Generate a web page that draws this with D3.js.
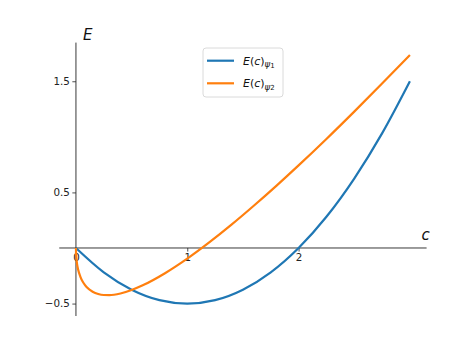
<!DOCTYPE html>
<html>
<head>
<meta charset="utf-8">
<script src="https://cdn.jsdelivr.net/npm/d3@7"></script>
<style>
  html, body { margin: 0; padding: 0; background: #fff; }
  svg { display: block; }
  text { font-family: "DejaVu Sans", sans-serif; }
</style>
</head>
<body>
<svg id="chart" width="474" height="355"></svg>
<script>
// ---- data ----
const c1 = [0, 0.25, 0.5, 0.75, 1, 1.25, 1.5, 1.75, 2, 2.25, 2.5, 2.75, 3];
const e1 = [0, -0.219, -0.375, -0.469, -0.5, -0.469, -0.375, -0.219, 0, 0.281, 0.625, 1.031, 1.5];

const c2 = [0, 0.001, 0.002, 0.005, 0.01, 0.02, 0.04, 0.06, 0.08, 0.1, 0.15, 0.2, 0.25, 0.3, 0.4, 0.5, 0.6, 0.8, 1.0, 1.2, 1.4, 1.6, 1.8, 2.0, 2.25, 2.5, 2.75, 3.0];
const e2 = [0, -0.049, -0.068, -0.105, -0.145, -0.196, -0.259, -0.301, -0.331, -0.355, -0.393, -0.414, -0.423, -0.424, -0.409, -0.378, -0.336, -0.227, -0.096, 0.052, 0.212, 0.382, 0.559, 0.743, 0.981, 1.227, 1.479, 1.736];

const xTicks = [0, 1, 2];
const xTickLabels = ["0", "1", "2"];
const yTicks = [1.5, 0.5, -0.5];
const yTickLabels = ["1.5", "0.5", "\u22120.5"];
const seriesNames = ["ψ1", "ψ2"];
const colors = ["#1f77b4", "#ff7f0e"];

// ---- layout ----
const svg = d3.select("#chart");
const mLeft = 59.25, mRight = 426.6, mTop = 42.6, mBottom = 316;

const x = d3.scaleLinear().domain([-0.15, 3.15]).range([mLeft, mRight]);
const y = d3.scaleLinear().domain([-0.6118, 1.8478]).range([mBottom, mTop]);

const axisColor = "#222";

// x axis at y=0
const xAxis = d3.axisBottom(x).tickValues(xTicks)
  .tickFormat((d, i) => xTickLabels[i]).tickSize(3.6).tickSizeOuter(0).tickPadding(2.5);
const gx = svg.append("g").attr("transform", `translate(0,${y(0)})`).call(xAxis);
gx.select(".domain").attr("d", `M${mLeft},0H${mRight}`).attr("stroke", axisColor).attr("stroke-width", 0.9);
gx.selectAll(".tick line").attr("stroke", axisColor).attr("stroke-width", 0.8);
gx.selectAll(".tick text").attr("font-size", "10.3px").attr("fill", "#222")
  .attr("font-family", "DejaVu Sans, sans-serif");

// y axis at x=0
const yAxis = d3.axisLeft(y).tickValues(yTicks)
  .tickFormat((d, i) => yTickLabels[i]).tickSize(3.6).tickSizeOuter(0).tickPadding(2.5);
const gy = svg.append("g").attr("transform", `translate(${x(0)},0)`).call(yAxis);
gy.select(".domain").attr("d", `M0,${mTop}V${mBottom}`).attr("stroke", axisColor).attr("stroke-width", 0.9);
gy.selectAll(".tick line").attr("stroke", axisColor).attr("stroke-width", 0.8);
gy.selectAll(".tick text").attr("font-size", "10.3px").attr("fill", "#222")
  .attr("font-family", "DejaVu Sans, sans-serif");

// curves
const line = d3.line().x(d => x(d[0])).y(d => y(d[1])).curve(d3.curveMonotoneX);
const s1 = c1.map((c, i) => [c, e1[i]]);
const s2 = c2.map((c, i) => [c, e2[i]]);
svg.append("path").datum(s1).attr("d", line).attr("fill", "none")
  .attr("stroke", colors[0]).attr("stroke-width", 2.2).attr("stroke-linecap", "butt");
svg.append("path").datum(s2).attr("d", line).attr("fill", "none")
  .attr("stroke", colors[1]).attr("stroke-width", 2.2).attr("stroke-linecap", "butt");

// axis labels
svg.append("text").attr("x", 83).attr("y", 39.5).attr("font-size", "15px")
  .attr("font-style", "italic").attr("fill", "#111").text("E");
svg.append("text").attr("x", 421.5).attr("y", 239.5).attr("font-size", "15px")
  .attr("font-style", "italic").attr("fill", "#111").text("c");

// legend
const lg = svg.append("g");
lg.append("rect").attr("x", 203).attr("y", 48).attr("width", 80).attr("height", 49)
  .attr("rx", 3).attr("fill", "#fff").attr("fill-opacity", 0.8)
  .attr("stroke", "#d0d0d0").attr("stroke-width", 0.8);
seriesNames.forEach((name, i) => {
  const yy = 60.7 + i * 22.6;
  lg.append("line").attr("x1", 207).attr("x2", 234).attr("y1", yy).attr("y2", yy)
    .attr("stroke", colors[i]).attr("stroke-width", 2.2);
  const t = lg.append("text").attr("x", 243).attr("y", yy + 3.8).attr("font-size", "11px").attr("fill", "#111");
  t.append("tspan").attr("font-style", "italic").text("E");
  t.append("tspan").text("(");
  t.append("tspan").attr("font-style", "italic").text("c");
  t.append("tspan").text(")");
  t.append("tspan").attr("font-style", "italic").attr("font-size", "8.5px").attr("dy", 2.5).text(name[0]);
  t.append("tspan").attr("font-size", "7px").attr("dy", 0.5).text(name.slice(1));
});
</script>
</body>
</html>
